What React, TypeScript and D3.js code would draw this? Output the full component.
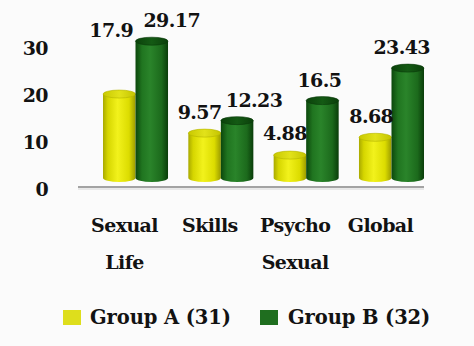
import React from "react";
import * as d3 from "d3";

const categories: string[][] = [["Sexual", "Life"], ["Skills"], ["Psycho", "Sexual"], ["Global"]];
const groupA: number[] = [17.9, 9.57, 4.88, 8.68];
const groupB: number[] = [29.17, 12.23, 16.5, 23.43];
const seriesNames = ["Group A (31)", "Group B (32)"];
const yTicks = [0, 10, 20, 30];

// layout nudges for value labels (dx, dy), as placed in the original
const labelShiftA = [[-8, -43], [-5, 0], [-5, -1], [-4, 0]];
const labelShiftB = [[20, 0], [17, 0], [-3, 0], [-6, 0]];

const W = 474;
const H = 346;
const FONT = "'DejaVu Serif', serif";

export default function App() {
  const keys = categories.map((c) => c.join(" "));
  const x = d3.scaleBand<string>().domain(keys).range([103, 424]).paddingInner(0.238).paddingOuter(0);
  const xi = d3.scaleBand<string>().domain(["A", "B"]).range([0, x.bandwidth()]).padding(0);
  const y = d3.scaleLinear().domain([0, 30]).range([178, 37.3]);
  const ry = 4;

  const cyl = (x0: number, w: number, v: number, s: string, key: string) => {
    const yt = y(v);
    const yb = y(0);
    const rx = w / 2;
    const d = `M${x0},${yt} L${x0},${yb} A${rx},${ry} 0 0 0 ${x0 + w},${yb} L${x0 + w},${yt} Z`;
    return (
      <g key={key}>
        <path d={d} fill={`url(#body${s})`} />
        <ellipse cx={x0 + rx} cy={yt} rx={rx} ry={ry} fill={`url(#top${s})`} stroke={s === "A" ? "#b5b500" : "#0a3a0a"} strokeWidth={0.6} />
      </g>
    );
  };

  const textStyle = { fontFamily: FONT, fontWeight: 700, fontSize: 19, fill: "#121212", letterSpacing: -0.6 } as const;
  const legendStyle = { ...textStyle, fontSize: 19.5, letterSpacing: -0.1 } as const;

  return (
    <svg width={W} height={H} style={{ position: "absolute", left: 0, top: 0, background: "#fbfbfb" }}>
      <defs>
        <linearGradient id="bodyA" x1="0" x2="1" y1="0" y2="0">
          <stop offset="0" stopColor="#a9a900" />
          <stop offset="0.15" stopColor="#d6d600" />
          <stop offset="0.45" stopColor="#f2f21c" />
          <stop offset="0.8" stopColor="#dcdc00" />
          <stop offset="1" stopColor="#9c9c00" />
        </linearGradient>
        <linearGradient id="topA" x1="0" x2="1" y1="0" y2="0">
          <stop offset="0" stopColor="#c9c900" />
          <stop offset="0.5" stopColor="#e2e21a" />
          <stop offset="1" stopColor="#c4c400" />
        </linearGradient>
        <linearGradient id="bodyB" x1="0" x2="1" y1="0" y2="0">
          <stop offset="0" stopColor="#0c470c" />
          <stop offset="0.2" stopColor="#207520" />
          <stop offset="0.45" stopColor="#2a842a" />
          <stop offset="0.8" stopColor="#1c6a1c" />
          <stop offset="1" stopColor="#0a3d0a" />
        </linearGradient>
        <linearGradient id="topB" x1="0" x2="1" y1="0" y2="0">
          <stop offset="0" stopColor="#0b420b" />
          <stop offset="0.5" stopColor="#145a14" />
          <stop offset="1" stopColor="#0b400b" />
        </linearGradient>
      </defs>

      {/* y tick labels */}
      {yTicks.map((t) => (
        <text key={t} x={48} y={y(t) + 17.5} textAnchor="end" style={textStyle}>
          {t}
        </text>
      ))}

      {/* floor line */}
      <line x1={78} x2={424} y1={187} y2={187} stroke="#a3a3a3" strokeWidth={2} />
      <line x1={78} x2={424} y1={189} y2={189} stroke="#d6d6d6" strokeWidth={1} />

      {/* bars */}
      {keys.map((k, i) => {
        const gx = x(k)!;
        return (
          <g key={k}>
            {cyl(gx + xi("A")!, xi.bandwidth(), groupA[i], "A", "a")}
            {cyl(gx + xi("B")!, xi.bandwidth(), groupB[i], "B", "b")}
          </g>
        );
      })}

      {/* value labels */}
      {keys.map((k, i) => {
        const gx = x(k)!;
        const cA = gx + xi("A")! + xi.bandwidth() / 2;
        const cB = gx + xi("B")! + xi.bandwidth() / 2;
        return (
          <g key={"lab" + k}>
            <text x={cA + labelShiftA[i][0]} y={y(groupA[i]) - 14 + labelShiftA[i][1]} textAnchor="middle" style={textStyle}>
              {groupA[i]}
            </text>
            <text x={cB + labelShiftB[i][0]} y={y(groupB[i]) - 14 + labelShiftB[i][1]} textAnchor="middle" style={textStyle}>
              {groupB[i]}
            </text>
          </g>
        );
      })}

      {/* category labels */}
      {categories.map((lines, i) => {
        const cx = x(keys[i])! + x.bandwidth() / 2 - 11;
        return (
          <text key={"cat" + i} textAnchor="middle" style={textStyle}>
            {lines.map((l, j) => (
              <tspan key={j} x={cx} y={232 + j * 37}>
                {l}
              </tspan>
            ))}
          </text>
        );
      })}

      {/* legend */}
      <rect x={63} y={310} width={18} height={15} fill="#dede1c" />
      <text x={90} y={324} style={legendStyle}>{seriesNames[0]}</text>
      <rect x={260} y={310} width={18} height={15} fill="#1f6e1f" />
      <text x={288} y={324} style={legendStyle}>{seriesNames[1]}</text>
    </svg>
  );
}
